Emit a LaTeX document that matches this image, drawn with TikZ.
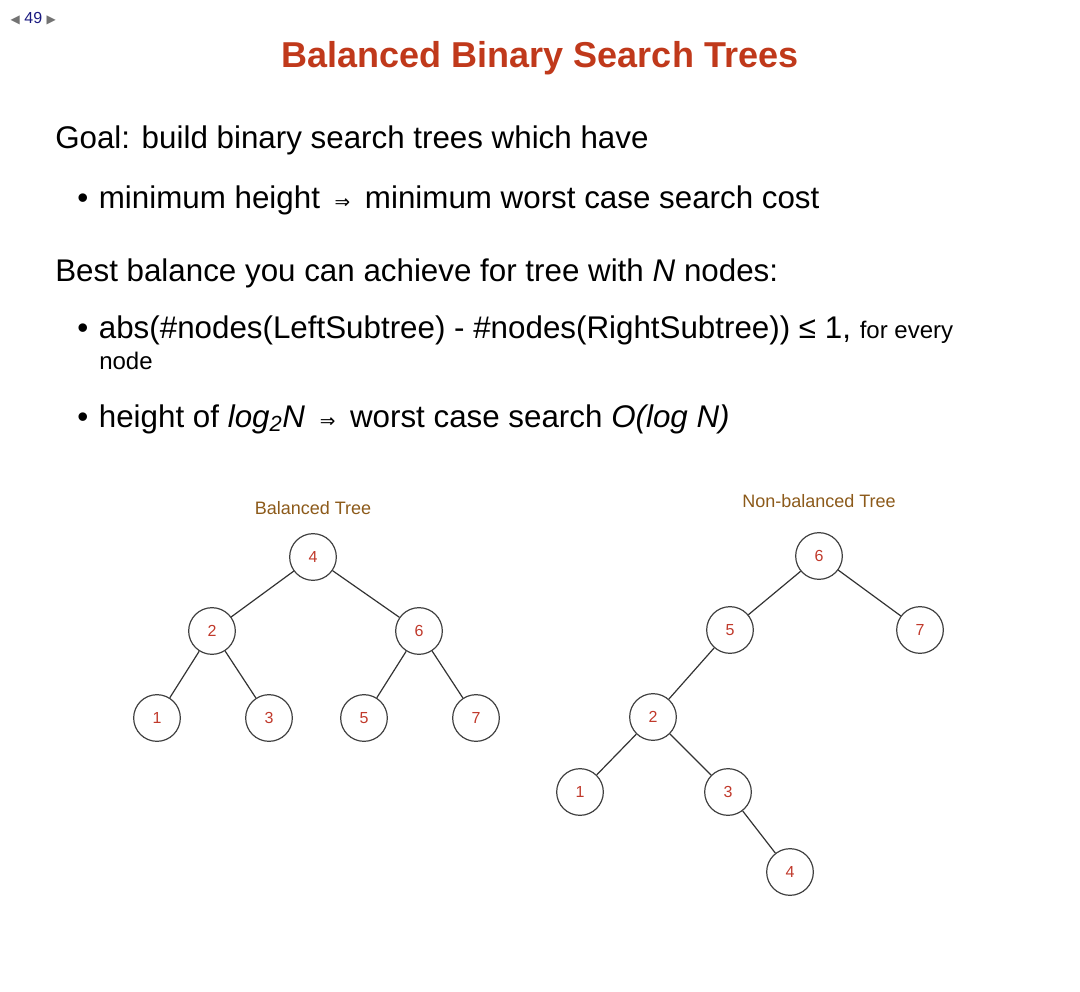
\documentclass[tikz,border=0pt]{standalone}
\usepackage{fontspec}
\setmainfont{Liberation Sans}
\newfontfamily\dejavu{DejaVu Sans}
\definecolor{titlered}{HTML}{C0391B}
\definecolor{nodered}{HTML}{C0392B}
\definecolor{lblbrown}{HTML}{8C5A1A}
\definecolor{navyc}{HTML}{1A1A80}
\begin{document}
\begin{tikzpicture}[x=0.75pt,y=-0.75pt,
  tn/.style={circle,draw=black!75,line width=0.9pt,minimum size=35pt,inner sep=0pt,font=\fontsize{12}{12}\selectfont,text=nodered},
  edge/.style={draw=black!80,line width=0.9pt},
  body/.style={anchor=base west,inner sep=0pt,font=\fontsize{23.5}{27}\selectfont},
  lbl/.style={text=lblbrown,font=\fontsize{13.5}{16}\selectfont}]
\useasboundingbox (0,0) rectangle (1080,991);
\node[anchor=west,text=navyc,font=\fontsize{12}{12}\selectfont] (pg) at (6,19) {{\dejavu\color{black!55}\fontsize{9}{9}\selectfont◀} 49 {\dejavu\color{black!55}\fontsize{9}{9}\selectfont▶}};
\node[text=titlered,font=\fontsize{27}{30}\selectfont\bfseries] (title) at (540,58) {Balanced Binary Search Trees};
\node[body] (l1) at (55,149) {Goal: build binary search trees which have};
\node[body] (l2) at (77,209) {\textbullet\hspace{8pt}minimum height {\dejavu\fontsize{14}{14}\selectfont\ ⇒\ } minimum worst case search cost};
\node[body] (l3) at (55,281) {Best balance you can achieve for tree with \textit{N} nodes:};
\node[body] (l4) at (77,338) {\textbullet\hspace{8pt}abs(\#nodes(LeftSubtree) - \#nodes(RightSubtree)) ≤ 1, {\fontsize{18}{18}\selectfont for every}};
\node[body,font=\fontsize{18}{18}\selectfont] (l5) at (99,369) {node};
\node[body] (l6) at (77,427) {\textbullet\hspace{8pt}height of \textit{log\textsubscript{2}N} {\dejavu\fontsize{14}{14}\selectfont\ ⇒\ } worst case search \textit{O(log N)}};
\node[lbl] (lb1) at (313,508) {Balanced Tree};
\node[lbl] (lb2) at (819,501) {Non-balanced Tree};
\node[tn] (a4) at (313,557) {4};
\node[tn] (a2) at (212,631) {2};
\node[tn] (a6) at (419,631) {6};
\node[tn] (a1) at (157,718) {1};
\node[tn] (a3) at (269,718) {3};
\node[tn] (a5) at (364,718) {5};
\node[tn] (a7) at (476,718) {7};
\draw[edge] (a4)--(a2) (a4)--(a6) (a2)--(a1) (a2)--(a3) (a6)--(a5) (a6)--(a7);
\node[tn] (b6) at (819,556) {6};
\node[tn] (b5) at (730,630) {5};
\node[tn] (b7) at (920,630) {7};
\node[tn] (b2) at (653,717) {2};
\node[tn] (b1) at (580,792) {1};
\node[tn] (b3) at (728,792) {3};
\node[tn] (b4) at (790,872) {4};
\draw[edge] (b6)--(b5) (b6)--(b7) (b5)--(b2) (b2)--(b1) (b2)--(b3) (b3)--(b4);
\end{tikzpicture}
\end{document}
